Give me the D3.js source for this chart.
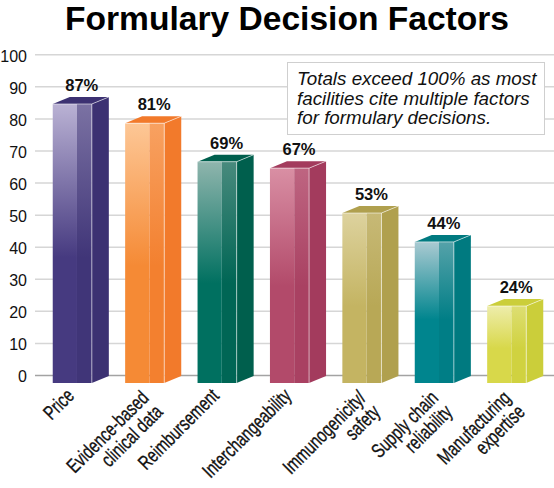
<!DOCTYPE html>
<html>
<head>
  <meta charset="utf-8">
  <script src="https://d3js.org/d3.v7.min.js"></script>
  <style>
    body { margin: 0; background: #fff; }
    svg { display: block; font-family: "Liberation Sans", Arial, sans-serif; }
    .axis path { display: none; }
    .axis line { stroke: #d6d6d6; stroke-width: 1.5; }
    .axis text { font-size: 16px; fill: #111; }
    .pct { font-size: 16.5px; font-weight: bold; fill: #111; }
    .xlab { font-size: 20px; fill: #111; stroke: #111; stroke-width: 0.35px; }
    .note { font-size: 18.8px; font-style: italic; fill: #111; }
  </style>
</head>
<body>
<script>
  var title = "Formulary Decision Factors";
  var categories = ["Price", "Evidence-based\nclinical data", "Reimbursement", "Interchangeability",
                    "Immunogenicity/\nsafety", "Supply chain\nreliability", "Manufacturing\nexpertise"];
  var values = [87, 81, 69, 67, 53, 44, 24];
  var yTicks = [0, 10, 20, 30, 40, 50, 60, 70, 80, 90, 100];
  var noteLines = ["Totals exceed 100% as most",
                   "facilities cite multiple factors",
                   "for formulary decisions."];

  // colours: base front, pale top of front, side/top face
  var baseColors  = ["#463a80", "#f58a35", "#007060", "#b24a6a", "#c4b462", "#00858e", "#d8d84a"];
  var lightColors = ["#bab2d4", "#fdc796", "#8fb5ad", "#d98fa4", "#ddd29e", "#aacad2", "#eeedab"];
  var sideColors  = ["#3c3172", "#f27a2b", "#005f4d", "#a33b5d", "#b0a04e", "#007a80", "#cbce3a"];

  var W = 554, H = 488;
  var depthX = 17, depthY = -7, drop = 8;

  var svg = d3.select("body").append("svg")
    .attr("width", W)
    .attr("height", H);

  svg.append("text")
    .attr("x", 287)
    .attr("y", 30)
    .attr("text-anchor", "middle")
    .style("font-size", "33.5px")
    .style("font-weight", "bold")
    .attr("textLength", 444)
    .attr("lengthAdjust", "spacingAndGlyphs")
    .text(title);

  var y = d3.scaleLinear().domain([0, 100]).range([375, 54.3]);
  var x = d3.scaleBand().domain(d3.range(categories.length))
    .range([35, 544]).paddingInner(0.46).paddingOuter(0.245);
  var bw = x.bandwidth();

  var yAxis = svg.append("g")
    .attr("class", "axis")
    .attr("transform", "translate(35,0)")
    .call(d3.axisLeft(y).tickValues(yTicks).tickSize(-(W - 35)).tickPadding(8));
  yAxis.selectAll("text").attr("dy", "0.42em");
  yAxis.selectAll(".tick").filter(function(d) { return d === 0; })
    .select("line").style("stroke", "#a3a3a3");

  // note box
  svg.append("rect")
    .attr("x", 287.5).attr("y", 62.5)
    .attr("width", 257).attr("height", 72)
    .attr("fill", "#fff").attr("stroke", "#cfcfcf");
  svg.append("g").selectAll("text")
    .data(noteLines).enter()
    .append("text")
    .attr("class", "note")
    .attr("x", 297)
    .attr("y", function(d, i) { return 85 + i * 19.5; })
    .text(function(d) { return d; });

  var defs = svg.append("defs");
  values.forEach(function(v, i) {
    var g1 = defs.append("linearGradient").attr("id", "fl" + i)
      .attr("x1", 0).attr("y1", 0).attr("x2", 0).attr("y2", 1);
    g1.append("stop").attr("offset", 0).attr("stop-color", lightColors[i]);
    g1.append("stop").attr("offset", 0.55).attr("stop-color", baseColors[i]);
    g1.append("stop").attr("offset", 1).attr("stop-color", baseColors[i]);
    var g2 = defs.append("linearGradient").attr("id", "fr" + i)
      .attr("x1", 0).attr("y1", 0).attr("x2", 0).attr("y2", 1);
    g2.append("stop").attr("offset", 0).attr("stop-color", d3.interpolateRgb(lightColors[i], sideColors[i])(0.5));
    g2.append("stop").attr("offset", 0.55).attr("stop-color", d3.interpolateRgb(baseColors[i], sideColors[i])(0.6));
    g2.append("stop").attr("offset", 1).attr("stop-color", d3.interpolateRgb(baseColors[i], sideColors[i])(0.6));
  });

  var bars = svg.append("g").selectAll("g")
    .data(values).enter()
    .append("g");

  function topOf(v) { return y(v) + drop; }
  var bottom = y(0) + drop;

  // side face
  bars.append("path")
    .attr("fill", function(d, i) { return sideColors[i]; })
    .attr("d", function(d, i) {
      var x0 = x(i) + bw;
      return "M" + x0 + "," + bottom + "L" + x0 + "," + topOf(d) +
        "L" + (x0 + depthX) + "," + (topOf(d) + depthY) +
        "L" + (x0 + depthX) + "," + (bottom + depthY) + "Z";
    });
  // top face
  bars.append("path")
    .attr("fill", function(d, i) { return sideColors[i]; })
    .attr("d", function(d, i) {
      var x0 = x(i), t = topOf(d);
      return "M" + x0 + "," + t + "L" + (x0 + depthX) + "," + (t + depthY) +
        "L" + (x0 + bw + depthX) + "," + (t + depthY) + "L" + (x0 + bw) + "," + t + "Z";
    });
  // front face, pale part and darker strip
  bars.append("rect")
    .attr("x", function(d, i) { return x(i); })
    .attr("y", function(d) { return topOf(d); })
    .attr("width", bw * 0.62)
    .attr("height", function(d) { return bottom - topOf(d); })
    .attr("fill", function(d, i) { return "url(#fl" + i + ")"; });
  bars.append("rect")
    .attr("x", function(d, i) { return x(i) + bw * 0.62; })
    .attr("y", function(d) { return topOf(d); })
    .attr("width", bw * 0.38)
    .attr("height", function(d) { return bottom - topOf(d); })
    .attr("fill", function(d, i) { return "url(#fr" + i + ")"; });
  // light edges
  bars.append("path")
    .attr("fill", "none")
    .attr("stroke", "rgba(255,255,255,0.55)")
    .attr("stroke-width", 1)
    .attr("d", function(d, i) {
      var x0 = x(i), t = topOf(d);
      return "M" + x0 + "," + t + "L" + (x0 + bw) + "," + t + "L" + (x0 + bw) + "," + bottom +
        "M" + (x0 + bw) + "," + t + "L" + (x0 + bw + depthX) + "," + (t + depthY);
    });

  bars.append("text")
    .attr("class", "pct")
    .attr("text-anchor", "middle")
    .attr("x", function(d, i) { return x(i) + (bw + depthX) / 2 + 1; })
    .attr("y", function(d) { return topOf(d) + depthY - 6; })
    .text(function(d) { return d + "%"; });

  // rotated category labels, squeezed to look condensed
  var xl = svg.append("g").selectAll("text")
    .data(categories).enter()
    .append("text")
    .attr("class", "xlab")
    .attr("text-anchor", "end")
    .attr("transform", function(d, i) {
      return "translate(" + (x(i) + bw / 2 + 3) + ",397) rotate(-45) scale(0.74,1)";
    });
  xl.each(function(d) {
    var lines = d.split("\n");
    var el = d3.select(this);
    lines.forEach(function(s, k) {
      el.append("tspan")
        .attr("x", 0)
        .attr("y", k * 20 + (lines.length - 1) * 3)
        .text(s);
    });
  });
</script>
</body>
</html>
